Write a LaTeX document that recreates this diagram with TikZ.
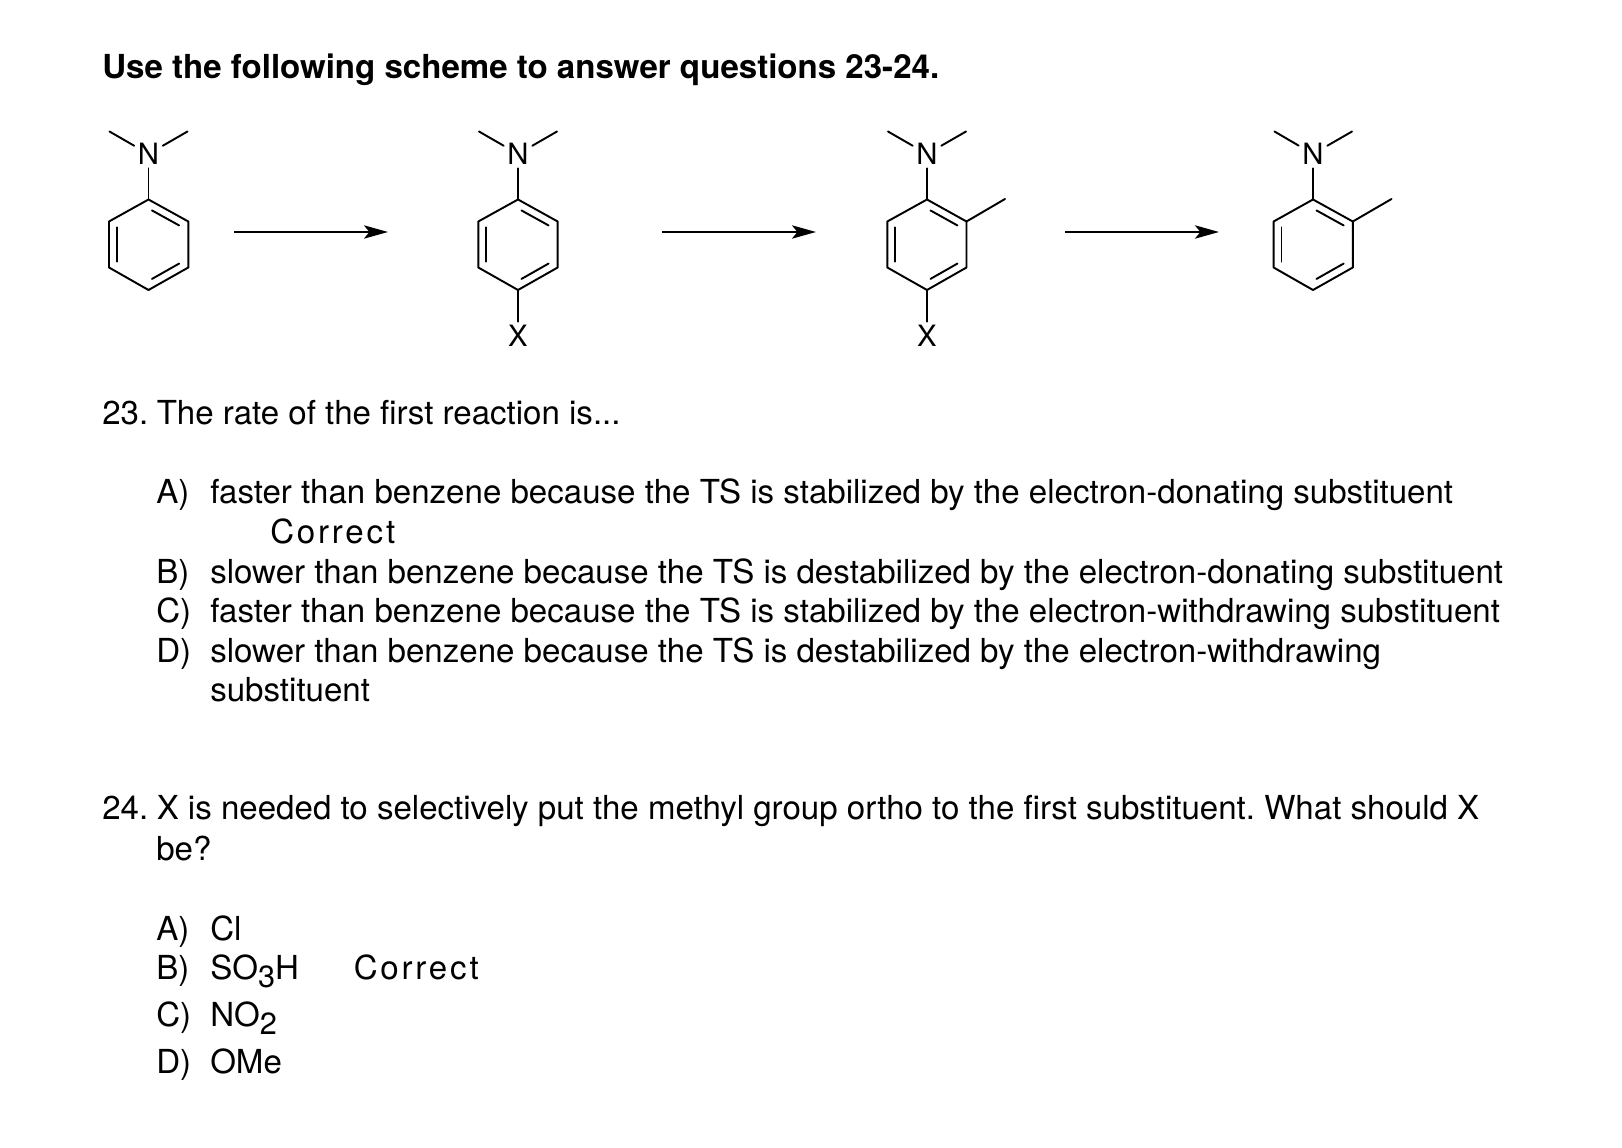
\documentclass[tikz,border=0pt]{standalone}
\usepackage{fontspec}
\setmainfont{TeX Gyre Heros}
\newfontfamily\correctfont[LetterSpace=8.5]{TeX Gyre Heros}
\usetikzlibrary{arrows.meta,calc}
\tikzset{
  txt/.style={anchor=base west, inner sep=0pt, font=\fontsize{24.8}{28}\selectfont\frenchspacing},
  head/.style={txt, font=\fontsize{24.8}{28}\selectfont\bfseries},
  okmark/.style={txt, font=\fontsize{24.8}{28}\selectfont\correctfont},
  atom/.style={inner sep=2.6pt, font=\fontsize{22}{22}\selectfont},
  bond/.style={line width=1.45pt, line cap=round, line join=round},
  inbond/.style={bond, shorten <=3pt, shorten >=1pt},
  inside/.style={bond, shorten <=1pt, shorten >=1pt},
  rxn/.style={line width=1.45pt, -{Stealth[length=18pt, width=10pt, inset=4pt]}},
}
\newcommand{\subdigit}[1]{\raisebox{-6.5pt}{\fontsize{23}{23}\selectfont #1}}

\begin{document}
\begin{tikzpicture}[x=0.75pt, y=-0.75pt]
  \useasboundingbox (0,0) rectangle (1622,1148);
  \node[head] (title) at (102,79) {Use the following scheme to answer questions 23-24.};

  % first molecule
  \node[atom] (N1) at (148.5,154) {N};
  \coordinate (Me1a) at (109.5,131.5);
  \coordinate (Me1b) at (187.5,131.5);
  \coordinate (C1) at (148.5,244.5);
  \coordinate (T1) at (148.5,199.5);
  \coordinate (UR1) at (188.3,221.5);
  \coordinate (LR1) at (188.3,267.5);
  \coordinate (B1) at (148.5,290);
  \coordinate (LL1) at (109,267.5);
  \coordinate (UL1) at (109,221.5);
  \draw[bond] (Me1a) -- (N1);
  \draw[bond] (Me1b) -- (N1);
  \draw[bond] (N1) -- (T1);
  \draw[bond] (T1) -- (UR1) -- (LR1) -- (B1) -- (LL1) -- (UL1) -- cycle;
  \draw[inbond] ($(C1)!0.8!(T1)$) -- ($(C1)!0.8!(UR1)$);
  \draw[inbond] ($(C1)!0.8!(B1)$) -- ($(C1)!0.8!(LR1)$);
  \draw[inside] ($(C1)!0.8!(UL1)$) -- ($(C1)!0.8!(LL1)$);

  % second molecule
  \node[atom] (N2) at (518,154) {N};
  \node[atom] (X2) at (518,336) {X};
  \coordinate (Me2a) at (479,131.5);
  \coordinate (Me2b) at (557,131.5);
  \coordinate (C2) at (518,244.5);
  \coordinate (T2) at (518,199.5);
  \coordinate (UR2) at (557.7,221.5);
  \coordinate (LR2) at (557.7,267.5);
  \coordinate (B2) at (518,290);
  \coordinate (LL2) at (478.3,267.5);
  \coordinate (UL2) at (478.3,221.5);
  \draw[bond] (Me2a) -- (N2);
  \draw[bond] (Me2b) -- (N2);
  \draw[bond] (N2) -- (T2);
  \draw[bond] (B2) -- (X2);
  \draw[bond] (T2) -- (UR2) -- (LR2) -- (B2) -- (LL2) -- (UL2) -- cycle;
  \draw[inbond] ($(C2)!0.8!(T2)$) -- ($(C2)!0.8!(UR2)$);
  \draw[inbond] ($(C2)!0.8!(B2)$) -- ($(C2)!0.8!(LR2)$);
  \draw[inside] ($(C2)!0.8!(UL2)$) -- ($(C2)!0.8!(LL2)$);

  % third molecule
  \node[atom] (N3) at (927,154) {N};
  \node[atom] (X3) at (927,336) {X};
  \coordinate (Me3a) at (888,131.5);
  \coordinate (Me3b) at (966,131.5);
  \coordinate (Me3c) at (1005,199);
  \coordinate (C3) at (927,244.5);
  \coordinate (T3) at (927,199.5);
  \coordinate (UR3) at (966.5,221.5);
  \coordinate (LR3) at (966.5,267.5);
  \coordinate (B3) at (927,290);
  \coordinate (LL3) at (887.3,267.5);
  \coordinate (UL3) at (887.3,221.5);
  \draw[bond] (Me3a) -- (N3);
  \draw[bond] (Me3b) -- (N3);
  \draw[bond] (N3) -- (T3);
  \draw[bond] (B3) -- (X3);
  \draw[bond] (UR3) -- (Me3c);
  \draw[bond] (T3) -- (UR3) -- (LR3) -- (B3) -- (LL3) -- (UL3) -- cycle;
  \draw[inbond] ($(C3)!0.8!(T3)$) -- ($(C3)!0.8!(UR3)$);
  \draw[inbond] ($(C3)!0.8!(B3)$) -- ($(C3)!0.8!(LR3)$);
  \draw[inside] ($(C3)!0.8!(UL3)$) -- ($(C3)!0.8!(LL3)$);

  % fourth molecule
  \node[atom] (N4) at (1313,154) {N};
  \coordinate (Me4a) at (1274.5,131.5);
  \coordinate (Me4b) at (1352,131.5);
  \coordinate (Me4c) at (1391.5,199);
  \coordinate (C4) at (1313,244.5);
  \coordinate (T4) at (1313,199.5);
  \coordinate (UR4) at (1352.8,221.5);
  \coordinate (LR4) at (1352.8,267.5);
  \coordinate (B4) at (1313,290);
  \coordinate (LL4) at (1273.6,267.5);
  \coordinate (UL4) at (1273.6,221.5);
  \draw[bond] (Me4a) -- (N4);
  \draw[bond] (Me4b) -- (N4);
  \draw[bond] (N4) -- (T4);
  \draw[bond] (UR4) -- (Me4c);
  \draw[bond] (T4) -- (UR4) -- (LR4) -- (B4) -- (LL4) -- (UL4) -- cycle;
  \draw[inbond] ($(C4)!0.8!(T4)$) -- ($(C4)!0.8!(UR4)$);
  \draw[inbond] ($(C4)!0.8!(B4)$) -- ($(C4)!0.8!(LR4)$);
  \draw[inside] ($(C4)!0.8!(UL4)$) -- ($(C4)!0.8!(LL4)$);

  % arrows
  \coordinate (R1a) at (234,232);
  \coordinate (R1b) at (388,232);
  \coordinate (R2a) at (662,232);
  \coordinate (R2b) at (816,232);
  \coordinate (R3a) at (1065,232);
  \coordinate (R3b) at (1219,232);
  \draw[rxn] (R1a) -- (R1b);
  \draw[rxn] (R2a) -- (R2b);
  \draw[rxn] (R3a) -- (R3b);

  % question 23
  \node[txt] (q23) at (102,424.5) {23.};
  \node[txt] (q23t) at (156.5,424.5) {The rate of the first reaction is...};
  \node[txt] (a23) at (156,503.5) {A)};
  \node[txt] (a23t) at (210,503.5) {faster than benzene because the TS is stabilized by the electron-donating substituent};
  \node[okmark] (a23m) at (270,543) {Correct};
  \node[txt] (b23) at (156,583) {B)};
  \node[txt] (b23t) at (210,583) {slower than benzene because the TS is destabilized by the electron-donating substituent};
  \node[txt] (c23) at (156,622) {C)};
  \node[txt] (c23t) at (210,622) {faster than benzene because the TS is stabilized by the electron-withdrawing substituent};
  \node[txt] (d23) at (156,662) {D)};
  \node[txt] (d23t) at (210,662) {slower than benzene because the TS is destabilized by the electron-withdrawing};
  \node[txt] (d23u) at (210,701) {substituent};

  % question 24
  \node[txt] (q24) at (102,819.5) {24.};
  \node[txt] (q24t) at (156.5,819.5) {X is needed to selectively put the methyl group ortho to the first substituent. What should X};
  \node[txt] (q24u) at (156,860.5) {be?};
  \node[txt] (a24) at (156,940) {A)};
  \node[txt] (a24t) at (210,940) {Cl};
  \node[txt] (b24) at (156,979) {B)};
  \node[txt] (b24t) at (210,979) {SO\subdigit{3}H};
  \node[okmark] (b24m) at (353.5,979) {Correct};
  \node[txt] (c24) at (156,1026) {C)};
  \node[txt] (c24t) at (210,1026) {NO\subdigit{2}};
  \node[txt] (d24) at (156,1073) {D)};
  \node[txt] (d24t) at (210,1073) {OMe};
\end{tikzpicture}
\end{document}
